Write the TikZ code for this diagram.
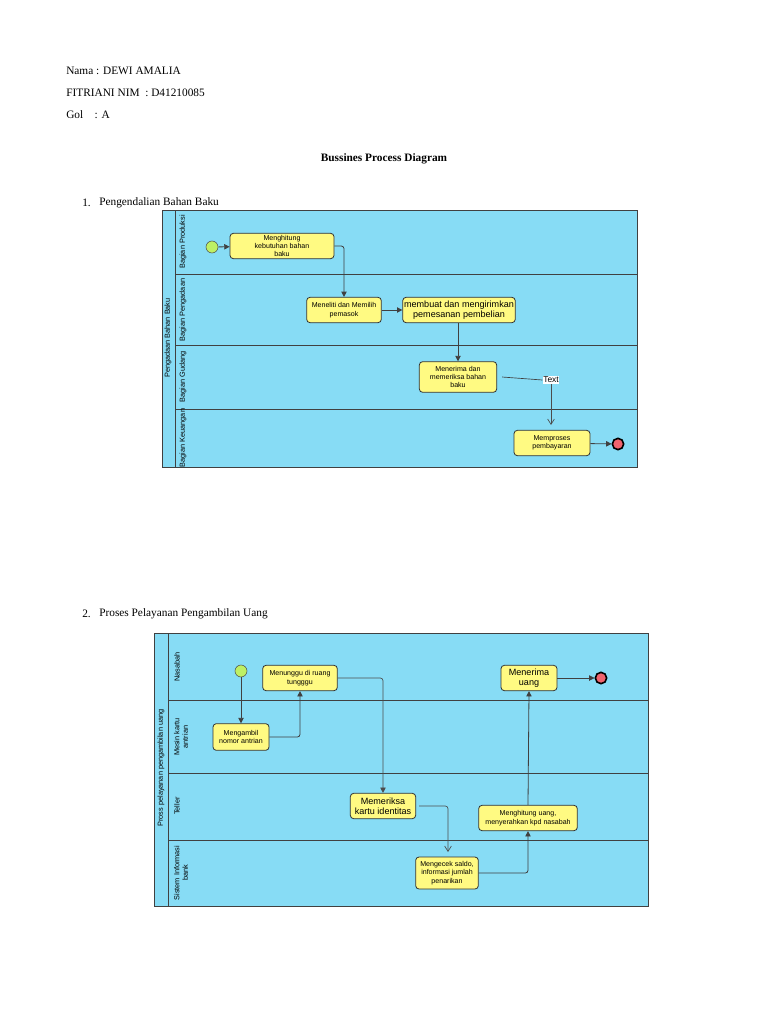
\documentclass[tikz,border=0pt]{standalone}
\usepackage{fontspec}
\setmainfont{Liberation Serif}
\newfontfamily\dsans{Liberation Sans}
\usetikzlibrary{arrows.meta}
\definecolor{lane}{RGB}{135,220,245}
\definecolor{act}{RGB}{255,250,130}
\definecolor{stc}{RGB}{190,240,100}
\definecolor{enc}{RGB}{240,100,110}
\begin{document}
\begin{tikzpicture}[x=0.75pt,y=-0.75pt,
  doc/.style={anchor=west,inner sep=0,font=\fontsize{8.5}{10}\selectfont},
  act/.style={draw=black!80,fill=act,rounded corners=2.5pt,line width=0.6pt,align=center,inner sep=1pt,font=\dsans\fontsize{5.3}{6.3}\selectfont},
  big/.style={act,font=\dsans\fontsize{6.8}{7.8}\selectfont},
  st/.style={circle,draw=black!70,fill=stc,minimum size=9pt,inner sep=0},
  en/.style={circle,draw=black,line width=1.2pt,fill=enc,minimum size=8.5pt,inner sep=0},
  fl/.style={draw=black!75,line width=0.6pt,rounded corners=2pt,-{Triangle[length=4pt,width=4pt]}},
  ofl/.style={draw=black!70,line width=0.5pt,rounded corners=2pt,-{Straight Barb[length=4pt,width=5pt]}},
  ln/.style={draw=black!75,line width=0.6pt},
  lab/.style={rotate=90,font=\dsans\fontsize{5.5}{6.3}\selectfont,align=center,inner sep=0}]
\useasboundingbox (0,0) rectangle (768,1024);
\node[doc] (t1) at (66,71) {Nama : DEWI AMALIA};
\node[doc] (t2) at (66,93) {FITRIANI NIM~ : D41210085};
\node[doc] (t3) at (66,115) {Gol~~~ : A};
\node[font=\bfseries\fontsize{8.5}{10}\selectfont] (title) at (384,159) {Bussines Process Diagram};
\node[doc] (n1) at (82,203) {1.};
\node[doc] (h1) at (99,203) {Pengendalian Bahan Baku};
\node[doc] (n2) at (82,614) {2.};
\node[doc] (h2) at (99,614) {Proses Pelayanan Pengambilan Uang};
% ---- diagram 1
\fill[lane] (162,210) rectangle (637,467);
\draw[ln] (162,210) rectangle (637,467);
\draw[ln] (175,210) -- (175,467);
\draw[ln] (175,274) -- (637,274) (175,345) -- (637,345) (175,409) -- (637,409);
\node[lab] (p1) at (168,338) {Pengadaan Bahan Baku};
\node[lab] (l11) at (183,242) {Bagian Produksi};
\node[lab] (l12) at (183,310) {Bagian Pengadaan};
\node[lab] (l13) at (183,377) {Bagian Gudang};
\node[lab] (l14) at (183,438) {Bagian Keuangan};
\node[st] (s1) at (212,247) {};
\node[act,minimum width=78pt,minimum height=19pt] (a1) at (282,246) {Menghitung\\kebutuhan bahan\\baku};
\node[act,minimum width=56pt,minimum height=19pt] (a2) at (344,310) {Meneliti dan Memilih\\pemasok};
\node[big,minimum width=82pt,minimum height=19pt] (a3) at (459,310) {membuat dan mengirimkan\\pemesanan pembelian};
\node[act,minimum width=58pt,minimum height=23pt] (a4) at (458,377) {Menerima dan\\memeriksa bahan\\baku};
\node[act,minimum width=57pt,minimum height=19pt] (a5) at (552,443) {Memproses\\pembayaran};
\node[en] (e1) at (618,444) {};
\draw[fl] (s1) -- (a1);
\draw[fl] (a1.east) -| (a2.north);
\draw[fl] (a3.south -| a4.north) -- (a4.north);
\draw[fl] (a2) -- (a3);
\node[fill=white,inner sep=0.5pt,font=\dsans\fontsize{6.3}{7}\selectfont] (tx) at (551,380) {Text};
\draw[ln,line width=0.5pt] (a4.east) ++(5,0) -- (tx.west);
\draw[ofl] (tx.south) -- (551,425);
\draw[fl] (a5) -- (e1);
% ---- diagram 2
\fill[lane] (154,633) rectangle (648,906);
\draw[ln] (154,633) rectangle (648,906);
\draw[ln] (168,633) -- (168,906);
\draw[ln] (168,700) -- (648,700) (168,773) -- (648,773) (168,840) -- (648,840);
\node[lab] (p2) at (161,768) {Pross pelayanan pengambilan uang};
\node[lab] (l21) at (177,667) {Nasabah};
\node[lab] (l22) at (181,737) {Mesin kartu\\antrian};
\node[lab] (l23) at (177,806) {Teller};
\node[lab] (l24) at (181,873) {Sistem Informasi\\bank};
\node[st] (s2) at (241,671) {};
\node[act,minimum width=56pt,minimum height=19pt] (b1) at (300,678) {Menunggu di ruang\\tungggu};
\node[act,minimum width=42pt,minimum height=20pt] (b2) at (241,737) {Mengambil\\nomor antrian};
\node[big,minimum width=49pt,minimum height=19pt] (b3) at (383,806) {Memeriksa\\kartu identitas};
\node[act,minimum width=47pt,minimum height=24pt] (b4) at (447,873) {Mengecek saldo,\\informasi jumlah\\penarikan};
\node[act,minimum width=74pt,minimum height=19pt] (b5) at (528,818) {Menghitung uang,\\menyerahkan kpd nasabah};
\node[big,minimum width=42pt,minimum height=19pt] (b6) at (529,678) {Menerima\\uang};
\node[en] (e2) at (601,678) {};
\draw[fl] (s2) -- (b2);
\draw[fl] (b2.east) -| (b1.south);
\draw[ofl,-{Triangle[length=4pt,width=4pt]}] (b1.east) -| (b3.north);
\draw[ofl] (b3.east) ++(3,0) -| (448,852);
\draw[fl] (b4.east) -| (b5.south);
\draw[fl] (b5.north) -- (b6.south);
\draw[fl] (b6) -- (e2);
\end{tikzpicture}
\end{document}
